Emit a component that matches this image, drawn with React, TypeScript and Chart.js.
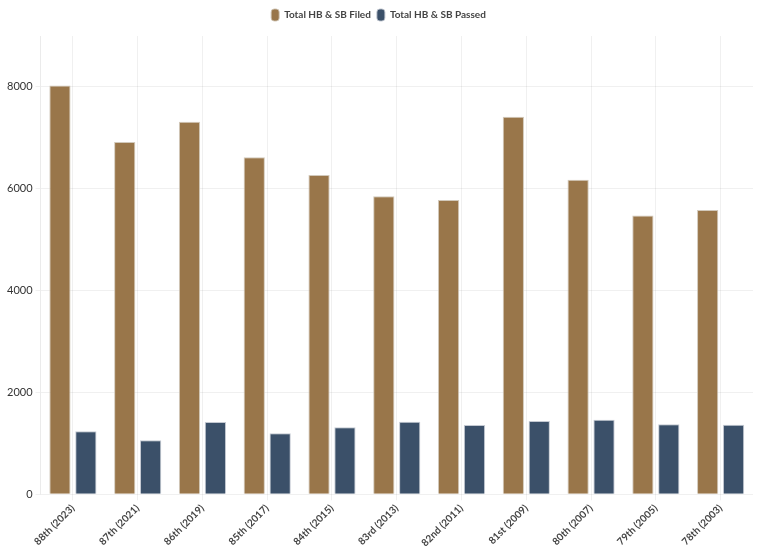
import React, { useEffect, useRef } from "react";
import { Chart, registerables } from "chart.js";

Chart.register(...registerables);

const categories = [
  "88th (2023)",
  "87th (2021)",
  "86th (2019)",
  "85th (2017)",
  "84th (2015)",
  "83rd (2013)",
  "82nd (2011)",
  "81st (2009)",
  "80th (2007)",
  "79th (2005)",
  "78th (2003)",
];

const filed = [8030, 6920, 7315, 6620, 6270, 5855, 5780, 7415, 6175, 5475, 5585];
const passed = [1236, 1060, 1420, 1197, 1315, 1427, 1362, 1441, 1466, 1374, 1368];

const seriesNames = ["Total HB & SB Filed", "Total HB & SB Passed"];
const yTicks = [0, 2000, 4000, 6000, 8000];

export default function App() {
  const ref = useRef<HTMLCanvasElement | null>(null);

  useEffect(() => {
    if (!ref.current) return;
    const font = "Lato, 'Open Sans', sans-serif";
    const legendMargin = {
      id: "legendMargin",
      beforeInit(chart: any) {
        const orig = chart.legend.fit;
        chart.legend.fit = function () {
          orig.bind(chart.legend)();
          this.height += 5;
        };
      },
    };
    const chart = new Chart(ref.current, {
      type: "bar",
      data: {
        labels: categories,
        datasets: [
          {
            label: seriesNames[0],
            data: filed,
            backgroundColor: "#99764a",
            borderColor: "rgba(205,195,180,0.9)",
            borderWidth: 1,
            categoryPercentage: 0.8,
            barPercentage: 0.82,
          },
          {
            label: seriesNames[1],
            data: passed,
            backgroundColor: "#3b5069",
            borderColor: "rgba(190,195,205,0.9)",
            borderWidth: 1,
            categoryPercentage: 0.8,
            barPercentage: 0.82,
          },
        ],
      },
      plugins: [legendMargin],
      options: {
        responsive: false,
        animation: false,
        layout: { padding: { left: 4, right: 15, top: 3, bottom: 4 } },
        plugins: {
          legend: {
            position: "top",
            labels: {
              boxWidth: 8,
              boxHeight: 12,
              useBorderRadius: true,
              borderRadius: 3,
              padding: 6,
              color: "#444",
              font: { family: font, size: 10, weight: "bold" },
            },
          },
          tooltip: { enabled: false },
        },
        scales: {
          x: {
            grid: {
              offset: false,
              color: "rgba(0,0,0,0.06)",
              drawTicks: true,
              tickLength: 6,
            },
            border: { display: false },
            ticks: {
              maxRotation: 45,
              minRotation: 45,
              color: "#444",
              font: { family: font, size: 10, weight: "bold" },
              padding: 2,
            },
          },
          y: {
            min: 0,
            max: 9000,
            afterBuildTicks: (axis: any) => {
              axis.ticks = yTicks.map((v) => ({ value: v }));
            },
            grid: { color: "rgba(0,0,0,0.06)", tickLength: 5 },
            border: { display: true, color: "rgba(0,0,0,0.08)" },
            ticks: {
              color: "#333",
              padding: 3,
              font: { family: font, size: 11 },
              callback: (v: any) => String(v),
            },
          },
        },
      },
    });
    return () => chart.destroy();
  }, []);

  return (
    <div style={{ position: "fixed", left: 0, top: 0, width: 768, height: 555, background: "#fff" }}>
      <canvas ref={ref} width={768} height={555} style={{ width: 768, height: 555 }} />
    </div>
  );
}
